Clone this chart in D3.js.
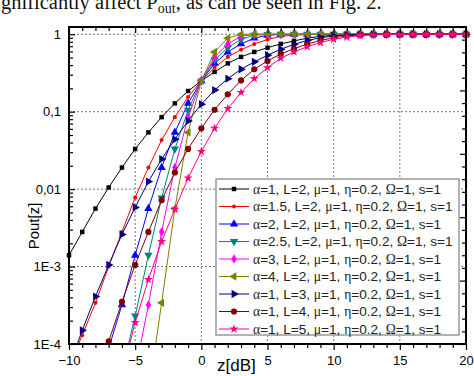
<!DOCTYPE html>
<html>
<head>
<meta charset="utf-8">
<script src="https://cdn.jsdelivr.net/npm/d3@7"></script>
<style>
  body { margin: 0; background: #fff; }
  svg { display: block; }
</style>
</head>
<body>
<div id="chart"></div>
<script>
// x values (dB), one marker every 1 dB
const zDb = [-10,-9,-8,-7,-6,-5,-4,-3,-2,-1,0,1,2,3,4,5,6,7,8,9,10,11,12,13,14,15,16,17,18,19,20];

// Pout (values below 1E-4 are only there so the lines run off the axis)
const pA1L2   = [0.0014,0.0028,0.0056,0.0105,0.019,0.033,0.054,0.085,0.128,0.185,0.25,0.326,0.42,0.51,0.59,0.67,0.75,0.82,0.89,0.94,0.97,0.985,0.993,0.997,0.999,1,1,1,1,1,1];
const pA15L2  = [5e-5,1.3e-4,3.4e-4,0.001,0.0028,0.0078,0.019,0.043,0.085,0.155,0.25,0.37,0.51,0.63,0.75,0.855,0.94,0.975,0.99,0.997,0.999,1,1,1,1,1,1,1,1,1,1];
const pA2L2   = [1.5e-6,5.5e-6,2.2e-5,8.8e-5,3.2e-4,0.0014,0.0056,0.019,0.054,0.128,0.25,0.42,0.59,0.75,0.89,0.97,0.993,0.999,1,1,1,1,1,1,1,1,1,1,1,1,1];
const pA25L2  = [1e-8,1e-7,8e-7,6e-6,4.4e-5,2.3e-4,0.0014,0.0077,0.033,0.105,0.25,0.465,0.67,0.86,0.97,0.995,1,1,1,1,1,1,1,1,1,1,1,1,1,1,1];
const pA3L2   = [1e-10,1e-9,1e-8,1e-7,1.4e-6,4.4e-5,3.2e-4,0.0028,0.019,0.085,0.25,0.51,0.75,0.94,0.995,1,1,1,1,1,1,1,1,1,1,1,1,1,1,1,1];
const pA4L2   = [1e-12,1e-11,1e-10,1e-9,1e-8,1e-7,2.2e-5,3.4e-4,0.0056,0.054,0.25,0.59,0.89,0.993,1,1,1,1,1,1,1,1,1,1,1,1,1,1,1,1,1];
const pA1L3   = [5e-5,1.5e-4,4.1e-4,0.00105,0.0026,0.0058,0.0125,0.0244,0.044,0.076,0.125,0.19,0.267,0.353,0.44,0.535,0.64,0.74,0.83,0.9,0.95,0.98,0.993,0.998,1,1,1,1,1,1,1];
const pA1L4   = [1.7e-6,7.5e-6,3e-5,1.08e-4,3.5e-4,0.00105,0.0028,0.0072,0.0164,0.033,0.061,0.106,0.168,0.253,0.353,0.45,0.557,0.65,0.745,0.83,0.9,0.95,0.98,0.993,0.998,1,1,1,1,1,1];
const pA1L5   = [1e-7,5e-7,2e-6,8e-6,4e-5,1.9e-4,6.8e-4,0.0021,0.0055,0.0139,0.0306,0.061,0.11,0.177,0.268,0.37,0.49,0.59,0.69,0.78,0.86,0.92,0.96,0.98,0.993,0.998,1,1,1,1,1];

const seriesValues = [pA1L2, pA15L2, pA2L2, pA25L2, pA3L2, pA4L2, pA1L3, pA1L4, pA1L5];
const alphaLabels = ["1", "1.5", "2", "2.5", "3", "4", "1", "1", "1"];
const lLabels     = ["2", "2", "2", "2", "2", "2", "3", "4", "5"];
const colors  = ["#000000", "#ff0000", "#0000ff", "#008080", "#ff00ff", "#808000", "#000080", "#800000", "#ff0080"];
const markers = ["square", "dot", "up", "down", "diamond", "left", "right", "circle", "star"];

const yTicks = [1e-4, 1e-3, 0.01, 0.1, 1];
const yTickLabels = ["1E-4", "1E-3", "0,01", "0,1", "1"];
const xTicks = [-10, -5, 0, 5, 10, 15, 20];

const W = 474, H = 376;
const svg = d3.select("#chart").append("svg")
  .attr("width", W)
  .attr("height", H);

// bit of the paper text that is cut off above the figure
svg.append("text")
  .attr("x", 1)
  .attr("y", 9)
  .attr("font-family", "Liberation Serif")
  .attr("font-size", 20.5)
  .attr("fill", "#111")
  .text("gnificantly affect P")
  .append("tspan").attr("dy", 4).attr("font-size", 14).text("out")
  .append("tspan").attr("dy", -4).attr("font-size", 20.5).text(", as can be seen in Fig. 2.");

const x = d3.scaleLinear().domain([-10, 20]).range([69, 466]);
const y = d3.scaleLog().domain([1e-4, 1.24]).range([344, 27]);
const yRight = d3.scaleLinear().domain([0, 25]).range([344, 27]);

const plotLeft = x.range()[0], plotRight = x.range()[1];
const plotTop = y.range()[1], plotBottom = y.range()[0];

// grid
svg.append("g")
  .selectAll("line")
  .data(xTicks.filter(d => d > -10 && d < 20))
  .join("line")
  .attr("x1", d => x(d)).attr("x2", d => x(d))
  .attr("y1", plotTop).attr("y2", plotBottom)
  .attr("stroke", "#777").attr("stroke-width", 1)
  .attr("stroke-dasharray", "2,2");

svg.append("g")
  .selectAll("line")
  .data(yTicks.filter(d => d > 1e-4))
  .join("line")
  .attr("x1", plotLeft).attr("x2", plotRight)
  .attr("y1", d => y(d)).attr("y2", d => y(d))
  .attr("stroke", "#777").attr("stroke-width", 1)
  .attr("stroke-dasharray", "2,2");

// marker shapes
function markerPath(type) {
  const s = d3.symbol();
  if (type === "square") return s.type(d3.symbolSquare).size(20)();
  if (type === "dot") return s.type(d3.symbolCircle).size(13)();
  if (type === "circle") return s.type(d3.symbolCircle).size(30)();
  if (type === "diamond") return s.type(d3.symbolDiamond).size(26)();
  if (type === "star") return s.type(d3.symbolStar).size(26)();
  return s.type(d3.symbolTriangle).size(30)();
}
function markerRotate(type) {
  if (type === "down") return 180;
  if (type === "left") return -90;
  if (type === "right") return 90;
  return 0;
}

svg.append("clipPath").attr("id", "plot-clip")
  .append("rect")
  .attr("x", plotLeft).attr("y", plotTop)
  .attr("width", plotRight - plotLeft).attr("height", plotBottom - plotTop);

const lineGen = d3.line()
  .x(d => x(d.z))
  .y(d => y(d.p));

seriesValues.forEach((vals, i) => {
  const pts = zDb.map((z, j) => ({ z: z, p: vals[j] }));

  svg.append("path")
    .datum(pts)
    .attr("clip-path", "url(#plot-clip)")
    .attr("d", lineGen)
    .attr("fill", "none")
    .attr("stroke", colors[i])
    .attr("stroke-width", 1);

  svg.append("g")
    .selectAll("path")
    .data(pts.filter(d => d.p >= 1e-4))
    .join("path")
    .attr("d", markerPath(markers[i]))
    .attr("transform", d => `translate(${x(d.z)},${y(d.p)}) rotate(${markerRotate(markers[i])})`)
    .attr("fill", colors[i]);
});

// axes: bottom outward ticks, the rest inward
const xMinor = zDb.filter(d => d % 5 !== 0);

svg.append("g")
  .attr("transform", `translate(0,${plotBottom})`)
  .call(d3.axisBottom(x).tickValues(xTicks).tickSize(6).tickPadding(6).tickFormat(d3.format("d")))
  .call(g => g.select(".domain").remove())
  .call(g => g.selectAll("text").attr("font-family", "Liberation Sans").attr("font-size", 13).attr("fill", "#000"));
svg.append("g")
  .attr("transform", `translate(0,${plotBottom})`)
  .call(d3.axisBottom(x).tickValues(xMinor).tickSize(4).tickFormat(""))
  .call(g => g.select(".domain").remove());

svg.append("g")
  .attr("transform", `translate(0,${plotTop})`)
  .call(d3.axisBottom(x).tickValues(xTicks).tickSize(6).tickFormat(""))
  .call(g => g.select(".domain").remove());
svg.append("g")
  .attr("transform", `translate(0,${plotTop})`)
  .call(d3.axisBottom(x).tickValues(xMinor).tickSize(4).tickFormat(""))
  .call(g => g.select(".domain").remove());

const yMinor = [];
[1e-4, 1e-3, 0.01, 0.1].forEach(dec => {
  [2,3,4,5,6,7,8,9].forEach(m => yMinor.push(dec * m));
});

svg.append("g")
  .attr("transform", `translate(${plotLeft},0)`)
  .call(d3.axisRight(y).tickValues(yTicks).tickSize(6).tickFormat(""))
  .call(g => g.select(".domain").remove());
svg.append("g")
  .attr("transform", `translate(${plotLeft},0)`)
  .call(d3.axisRight(y).tickValues(yMinor).tickSize(4).tickFormat(""))
  .call(g => g.select(".domain").remove());

svg.append("g")
  .selectAll("text")
  .data(yTicks)
  .join("text")
  .attr("x", plotLeft - 8)
  .attr("y", d => y(d))
  .attr("dy", "0.35em")
  .attr("text-anchor", "end")
  .attr("font-family", "Liberation Sans")
  .attr("font-size", 13)
  .text((d, i) => yTickLabels[i]);

// right axis is a plain linear one without labels
svg.append("g")
  .attr("transform", `translate(${plotRight},0)`)
  .call(d3.axisLeft(yRight).ticks(5).tickSize(6).tickFormat(""))
  .call(g => g.select(".domain").remove());
svg.append("g")
  .attr("transform", `translate(${plotRight},0)`)
  .call(d3.axisLeft(yRight).tickValues(d3.range(0, 26).filter(d => d % 5 !== 0)).tickSize(4).tickFormat(""))
  .call(g => g.select(".domain").remove());

svg.selectAll(".tick line").attr("stroke", "#000").attr("stroke-width", 1.2);

// frame
svg.append("rect")
  .attr("x", plotLeft).attr("y", plotTop)
  .attr("width", plotRight - plotLeft).attr("height", plotBottom - plotTop)
  .attr("fill", "none")
  .attr("stroke", "#000")
  .attr("stroke-width", 2);

// axis titles
svg.append("text")
  .attr("x", 217)
  .attr("y", 371)
  .attr("font-family", "Liberation Sans")
  .attr("font-size", 17)
  .text("z[dB]");

svg.append("text")
  .attr("transform", "translate(39,226) rotate(-90)")
  .attr("text-anchor", "middle")
  .attr("font-family", "Liberation Sans")
  .attr("font-size", 15)
  .text("Pout[z]");

// legend
const legend = svg.append("g");
legend.append("rect")
  .attr("x", 216).attr("y", 179)
  .attr("width", 243).attr("height", 156)
  .attr("fill", "#fff")
  .attr("stroke", "#999")
  .attr("stroke-width", 1.5);

seriesValues.forEach((vals, i) => {
  const ly = 189 + i * 17.5;
  legend.append("line")
    .attr("x1", 219).attr("x2", 249)
    .attr("y1", ly).attr("y2", ly)
    .attr("stroke", colors[i]).attr("stroke-width", 1);
  legend.append("path")
    .attr("d", markerPath(markers[i]))
    .attr("transform", `translate(234,${ly}) rotate(${markerRotate(markers[i])})`)
    .attr("fill", colors[i]);

  const t = legend.append("text")
    .attr("x", 253)
    .attr("y", ly)
    .attr("dy", "0.35em")
    .attr("font-family", "Liberation Sans")
    .attr("font-size", 13.6)
    .attr("fill", "#222");
  const parts = [
    ["α", true], ["=" + alphaLabels[i] + ", L=" + lLabels[i] + ", ", false],
    ["μ", true], ["=1, ", false],
    ["η", true], ["=0.2, ", false],
    ["Ω", true], ["=1, s=1", false]
  ];
  parts.forEach(p => {
    t.append("tspan")
      .attr("font-family", p[1] ? "Liberation Serif" : "Liberation Sans")
      .text(p[0]);
  });
});
</script>
</body>
</html>
